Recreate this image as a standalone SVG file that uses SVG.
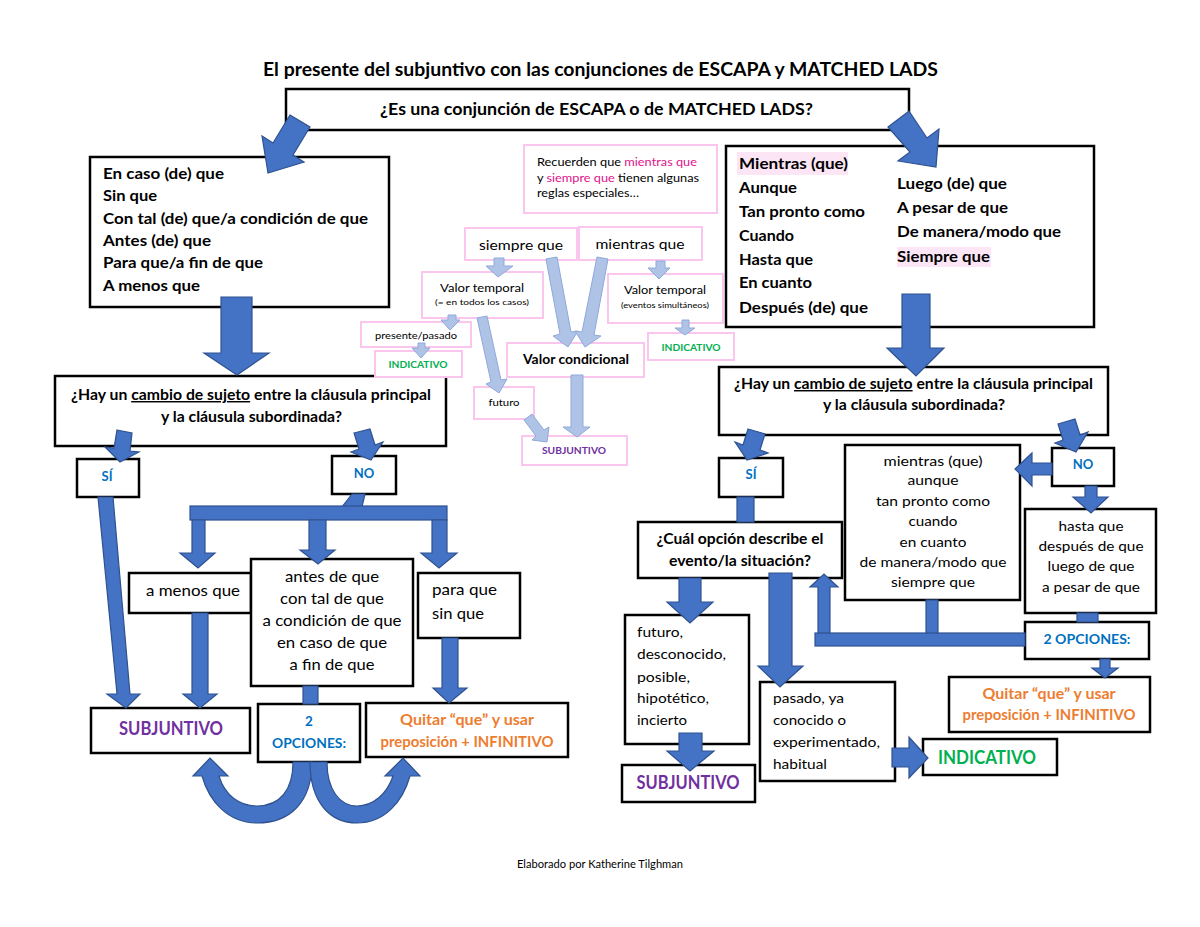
<svg xmlns="http://www.w3.org/2000/svg" width="1200" height="927" viewBox="0 0 1200 927">
<style>
text{font-family:Lato,"Liberation Sans",sans-serif;fill:#000}
.b{font-weight:bold}
.box{fill:#fff;stroke:#000;stroke-width:2.5}
.pbox{fill:#fff;stroke:#FBC6EE;stroke-width:2}
.arr{fill:#4472C4;stroke:#2F528F;stroke-width:1.2;stroke-linejoin:miter}
.parr{fill:#AFC3E7;stroke:#8FA9DA;stroke-width:1}
.blue{fill:#0070C0}
.purple{fill:#7030A0}
.orange{fill:#ED7D31}
.green{fill:#00B050}
.mag{fill:#E0138C}
.hl{fill:#FCE6F6}
</style>
<rect x="0" y="0" width="1200" height="927" fill="#fff"/>

<g id="title"><text x="263" y="76" font-size="19" class="b" textLength="675" lengthAdjust="spacingAndGlyphs">El presente del subjuntivo con las conjunciones de ESCAPA y MATCHED LADS</text></g>

<g id="q-top"><rect class="box" x="286" y="89" width="623" height="41"/><text x="380" y="115" font-size="17" class="b" textLength="433" lengthAdjust="spacingAndGlyphs">¿Es una conjunción de ESCAPA o de MATCHED LADS?</text></g>

<g id="escapa-list"><rect class="box" x="90" y="157" width="299" height="150"/>
<g font-size="16" class="b">
<text x="103" y="179" class="b" textLength="121" lengthAdjust="spacingAndGlyphs">En caso (de) que</text>
<text x="103" y="201" class="b" textLength="54" lengthAdjust="spacingAndGlyphs">Sin que</text>
<text x="103" y="224" class="b" textLength="265" lengthAdjust="spacingAndGlyphs">Con tal (de) que/a condición de que</text>
<text x="103" y="246" class="b" textLength="108" lengthAdjust="spacingAndGlyphs">Antes (de) que</text>
<text x="103" y="268" class="b" textLength="160" lengthAdjust="spacingAndGlyphs">Para que/a fin de que</text>
<text x="103" y="291" class="b" textLength="97" lengthAdjust="spacingAndGlyphs">A menos que</text>
</g></g>

<g id="matched-list"><rect class="box" x="726" y="146" width="368" height="181"/>
<rect class="hl" x="737" y="152" width="111" height="23"/>
<rect class="hl" x="897" y="247" width="94" height="20"/>
<g font-size="16">
<text x="739" y="169" class="b" textLength="109" lengthAdjust="spacingAndGlyphs">Mientras (que)</text>
<text x="739" y="193" class="b" textLength="58" lengthAdjust="spacingAndGlyphs">Aunque</text>
<text x="739" y="217" class="b" textLength="126" lengthAdjust="spacingAndGlyphs">Tan pronto como</text>
<text x="739" y="241" class="b" textLength="55" lengthAdjust="spacingAndGlyphs">Cuando</text>
<text x="739" y="265" class="b" textLength="74" lengthAdjust="spacingAndGlyphs">Hasta que</text>
<text x="739" y="288" class="b" textLength="73" lengthAdjust="spacingAndGlyphs">En cuanto</text>
<text x="739" y="313" class="b" textLength="129" lengthAdjust="spacingAndGlyphs">Después (de) que</text>
<text x="897" y="189" class="b" textLength="110" lengthAdjust="spacingAndGlyphs">Luego (de) que</text>
<text x="897" y="213" class="b" textLength="111" lengthAdjust="spacingAndGlyphs">A pesar de que</text>
<text x="897" y="237" class="b" textLength="164" lengthAdjust="spacingAndGlyphs">De manera/modo que</text>
<text x="897" y="262" class="b" textLength="93" lengthAdjust="spacingAndGlyphs">Siempre que</text>
</g></g>

<g id="q-left"><rect class="box" x="55" y="376" width="391" height="70"/>
<text x="71" y="400" font-size="14.5" class="b" textLength="360" lengthAdjust="spacingAndGlyphs">¿Hay un <tspan text-decoration="underline">cambio de sujeto</tspan> entre la cláusula principal</text>
<text x="161" y="422" font-size="14.5" class="b" textLength="181" lengthAdjust="spacingAndGlyphs">y la cláusula subordinada?</text></g>

<g id="q-right"><rect class="box" x="719" y="367" width="389" height="68"/>
<text x="734" y="389" font-size="14.5" class="b" textLength="359" lengthAdjust="spacingAndGlyphs">¿Hay un <tspan text-decoration="underline">cambio de sujeto</tspan> entre la cláusula principal</text>
<text x="823" y="410" font-size="14.5" class="b" textLength="182" lengthAdjust="spacingAndGlyphs">y la cláusula subordinada?</text></g>

<g id="si-left"><rect class="box" x="77" y="459" width="62" height="38"/><text x="107" y="481" font-size="13" class="b blue" text-anchor="middle">SÍ</text></g>
<g id="no-left"><rect class="box" x="332" y="456" width="64" height="38"/><text x="364" y="478" font-size="13" class="b blue" text-anchor="middle">NO</text></g>

<g id="a-menos"><rect class="box" x="129" y="573" width="122" height="40"/><text x="146" y="596" font-size="16" textLength="94" lengthAdjust="spacingAndGlyphs">a menos que</text></g>
<g id="antes-list"><rect class="box" x="251" y="559" width="162" height="127"/>
<g font-size="16" text-anchor="middle">
<text x="332" y="582" textLength="94" lengthAdjust="spacingAndGlyphs">antes de que</text>
<text x="332" y="604" textLength="104" lengthAdjust="spacingAndGlyphs">con tal de que</text>
<text x="332" y="626" textLength="139" lengthAdjust="spacingAndGlyphs">a condición de que</text>
<text x="332" y="648" textLength="110" lengthAdjust="spacingAndGlyphs">en caso de que</text>
<text x="332" y="670" textLength="85" lengthAdjust="spacingAndGlyphs">a fin de que</text>
</g></g>
<g id="para-que"><rect class="box" x="418" y="573" width="102" height="65"/>
<text x="432" y="595" font-size="16" textLength="65" lengthAdjust="spacingAndGlyphs">para que</text>
<text x="432" y="619" font-size="16" textLength="52" lengthAdjust="spacingAndGlyphs">sin que</text></g>

<g id="subj-left"><rect class="box" x="91" y="708" width="159" height="45"/><text x="171" y="735" font-size="18" class="b purple" text-anchor="middle" textLength="104" lengthAdjust="spacingAndGlyphs">SUBJUNTIVO</text></g>
<g id="opciones-left"><rect class="box" x="258" y="704" width="102" height="58"/>
<text x="309" y="726" font-size="13.5" class="b blue" text-anchor="middle">2</text>
<text x="309" y="748" font-size="13.5" class="b blue" text-anchor="middle" textLength="74" lengthAdjust="spacingAndGlyphs">OPCIONES:</text></g>
<g id="quitar-left"><rect class="box" x="366" y="703" width="202" height="54"/>
<text x="467" y="725" font-size="14.5" class="b orange" text-anchor="middle" textLength="134" lengthAdjust="spacingAndGlyphs">Quitar “que” y usar</text>
<text x="467" y="747" font-size="14.5" class="b orange" text-anchor="middle" textLength="173" lengthAdjust="spacingAndGlyphs">preposición + INFINITIVO</text></g>

<g id="recuerden"><rect class="pbox" x="524" y="145" width="193" height="68"/>
<text x="537" y="166" font-size="12" textLength="160" lengthAdjust="spacingAndGlyphs">Recuerden que <tspan class="mag">mientras que</tspan></text>
<text x="537" y="182" font-size="12" textLength="162" lengthAdjust="spacingAndGlyphs">y <tspan class="mag">siempre que</tspan> tienen algunas</text>
<text x="537" y="197" font-size="12" textLength="102" lengthAdjust="spacingAndGlyphs">reglas especiales…</text></g>

<g id="p-siempre"><rect class="pbox" x="465" y="228" width="112" height="32"/><text x="521" y="250" font-size="14" text-anchor="middle" textLength="84" lengthAdjust="spacingAndGlyphs">siempre que</text></g>
<g id="p-mientras"><rect class="pbox" x="579" y="227" width="123" height="33"/><text x="640" y="249" font-size="14" text-anchor="middle" textLength="89" lengthAdjust="spacingAndGlyphs">mientras que</text></g>
<g id="p-vt-left"><rect class="pbox" x="422" y="272" width="121" height="46"/>
<text x="482" y="292" font-size="12" text-anchor="middle" textLength="84" lengthAdjust="spacingAndGlyphs">Valor temporal</text>
<text x="482" y="305" font-size="8" text-anchor="middle" textLength="94" lengthAdjust="spacingAndGlyphs">(= en todos los casos)</text></g>
<g id="p-vt-right"><rect class="pbox" x="608" y="274" width="115" height="49"/>
<text x="665" y="294" font-size="12" text-anchor="middle" textLength="82" lengthAdjust="spacingAndGlyphs">Valor temporal</text>
<text x="665" y="308" font-size="8" text-anchor="middle" textLength="88" lengthAdjust="spacingAndGlyphs">(eventos simultáneos)</text></g>
<g id="p-presente"><rect class="pbox" x="361" y="322" width="110" height="25"/><text x="416" y="339" font-size="10" text-anchor="middle" textLength="82" lengthAdjust="spacingAndGlyphs">presente/pasado</text></g>
<g id="p-ind-left"><rect class="pbox" x="375" y="351" width="87" height="26"/><text x="418" y="368" font-size="10" class="b green" text-anchor="middle" textLength="59" lengthAdjust="spacingAndGlyphs">INDICATIVO</text></g>
<g id="p-vcond"><rect class="pbox" x="507" y="343" width="137" height="34"/><text x="576" y="364" font-size="14" class="b" text-anchor="middle" textLength="106" lengthAdjust="spacingAndGlyphs">Valor condicional</text></g>
<g id="p-ind-right"><rect class="pbox" x="648" y="333" width="86" height="27"/><text x="691" y="351" font-size="10" class="b green" text-anchor="middle" textLength="59" lengthAdjust="spacingAndGlyphs">INDICATIVO</text></g>
<g id="p-futuro"><rect class="pbox" x="474" y="387" width="60" height="32"/><text x="504" y="406" font-size="10" text-anchor="middle" textLength="31" lengthAdjust="spacingAndGlyphs">futuro</text></g>
<g id="p-subj"><rect class="pbox" x="522" y="436" width="105" height="29"/><text x="574" y="454" font-size="10" class="b purple" text-anchor="middle" textLength="64" lengthAdjust="spacingAndGlyphs">SUBJUNTIVO</text></g>

<g id="si-right"><rect class="box" x="719" y="458" width="64" height="39"/><text x="751" y="479" font-size="13" class="b blue" text-anchor="middle">SÍ</text></g>
<g id="cual"><rect class="box" x="638" y="522" width="204" height="56"/>
<text x="740" y="544" font-size="14.5" class="b" text-anchor="middle" textLength="167" lengthAdjust="spacingAndGlyphs">¿Cuál opción describe el</text>
<text x="740" y="566" font-size="14.5" class="b" text-anchor="middle" textLength="142" lengthAdjust="spacingAndGlyphs">evento/la situación?</text></g>
<g id="futuro-list"><rect class="box" x="625" y="615" width="124" height="129"/>
<g font-size="14">
<text x="637" y="637" textLength="46" lengthAdjust="spacingAndGlyphs">futuro,</text>
<text x="637" y="659" textLength="89" lengthAdjust="spacingAndGlyphs">desconocido,</text>
<text x="637" y="682" textLength="53" lengthAdjust="spacingAndGlyphs">posible,</text>
<text x="637" y="703" textLength="72" lengthAdjust="spacingAndGlyphs">hipotético,</text>
<text x="637" y="725" textLength="50" lengthAdjust="spacingAndGlyphs">incierto</text>
</g></g>
<g id="subj-right"><rect class="box" x="622" y="765" width="133" height="37"/><text x="688" y="789" font-size="18" class="b purple" text-anchor="middle" textLength="103" lengthAdjust="spacingAndGlyphs">SUBJUNTIVO</text></g>
<g id="pasado-list"><rect class="box" x="760" y="682" width="135" height="99"/>
<g font-size="14">
<text x="773" y="703" textLength="71" lengthAdjust="spacingAndGlyphs">pasado, ya</text>
<text x="773" y="725" textLength="73" lengthAdjust="spacingAndGlyphs">conocido o</text>
<text x="773" y="747" textLength="107" lengthAdjust="spacingAndGlyphs">experimentado,</text>
<text x="773" y="769" textLength="54" lengthAdjust="spacingAndGlyphs">habitual</text>
</g></g>
<g id="indicativo"><rect class="box" x="923" y="739" width="134" height="36"/><text x="938" y="764" font-size="18" class="b green" textLength="98" lengthAdjust="spacingAndGlyphs">INDICATIVO</text></g>

<g id="mientras-list"><rect class="box" x="845" y="445" width="175" height="155"/>
<g font-size="14" text-anchor="middle">
<text x="933" y="466" textLength="99" lengthAdjust="spacingAndGlyphs">mientras (que)</text>
<text x="933" y="485" textLength="51" lengthAdjust="spacingAndGlyphs">aunque</text>
<text x="933" y="506" textLength="114" lengthAdjust="spacingAndGlyphs">tan pronto como</text>
<text x="933" y="526" textLength="49" lengthAdjust="spacingAndGlyphs">cuando</text>
<text x="933" y="547" textLength="67" lengthAdjust="spacingAndGlyphs">en cuanto</text>
<text x="933" y="567" textLength="147" lengthAdjust="spacingAndGlyphs">de manera/modo que</text>
<text x="933" y="587" textLength="84" lengthAdjust="spacingAndGlyphs">siempre que</text>
</g></g>
<g id="no-right"><rect class="box" x="1052" y="448" width="62" height="38"/><text x="1083" y="469" font-size="13" class="b blue" text-anchor="middle">NO</text></g>
<g id="hasta-list"><rect class="box" x="1025" y="509" width="131" height="104"/>
<g font-size="14" text-anchor="middle">
<text x="1091" y="531" textLength="65" lengthAdjust="spacingAndGlyphs">hasta que</text>
<text x="1091" y="551" textLength="105" lengthAdjust="spacingAndGlyphs">después de que</text>
<text x="1091" y="571" textLength="87" lengthAdjust="spacingAndGlyphs">luego de que</text>
<text x="1091" y="592" textLength="98" lengthAdjust="spacingAndGlyphs">a pesar de que</text>
</g></g>
<g id="opciones-right"><rect class="box" x="1025" y="622" width="124" height="37"/><text x="1087" y="644" font-size="13.5" class="b blue" text-anchor="middle" textLength="87" lengthAdjust="spacingAndGlyphs">2 OPCIONES:</text></g>
<g id="quitar-right"><rect class="box" x="949" y="677" width="201" height="55"/>
<text x="1049" y="699" font-size="14.5" class="b orange" text-anchor="middle" textLength="133" lengthAdjust="spacingAndGlyphs">Quitar “que” y usar</text>
<text x="1049" y="720" font-size="14.5" class="b orange" text-anchor="middle" textLength="173" lengthAdjust="spacingAndGlyphs">preposición + INFINITIVO</text></g>

<g id="footer"><text x="517" y="868" font-size="10.5" fill="#333" textLength="166" lengthAdjust="spacingAndGlyphs">Elaborado por Katherine Tilghman</text></g>

<g id="connectors">
<polygon class="arr" points="290,115 310,127 293,155 304,162 268,173 262,136 273,143"/>
<polygon class="arr" points="888,127 909,111 927,138 939,129 936,167 898,161 910,152"/>
<polygon class="arr" points="221,297 252,297 252,353 269,353 237,375 204,353 221,353"/>
<polygon class="arr" points="902,294 930,294 930,348 944,348 916,376 887,348 902,348"/>
<polygon class="arr" points="117,430 132,433 130,451 139,452 120,462 105,447 114,448"/>
<polygon class="arr" points="354,433 370,429 375,445 383,442 371,460 351,452 359,449"/>
<polygon class="arr" points="352,494 365,494 362,507 342,507"/>
<rect class="arr" x="190" y="506" width="257" height="14"/>
<polygon class="arr" points="192,520 205,520 205,553 215,553 198,568 180,553 192,553"/>
<polygon class="arr" points="309,520 326,520 326,550 335,550 318,564 300,550 309,550"/>
<polygon class="arr" points="432,520 447,520 447,553 457,553 439,568 421,553 432,553"/>
<polygon class="arr" points="98,497 113,497 130,694 140,694 126,708 107,694 117,694"/>
<polygon class="arr" points="192,613 208,613 208,694 217,694 200,708 183,694 192,694"/>
<rect class="arr" x="303" y="686" width="15" height="18"/>
<polygon class="arr" points="442,638 458,638 458,688 467,688 449,703 433,688 442,688"/>
<path class="arr" d="M312,762 C312,802 290,823 257,823 C228,823 209,801 202,776 L193,776 L210,758 L228,776 L219,776 C225,796 240,806 257,806 C280,806 293,790 293,762 Z"/>
<path class="arr" d="M310,762 C310,802 330,823 357,823 C385,823 403,801 410,776 L420,776 L403,758 L385,776 L393,776 C387,794 373,806 357,806 C340,806 327,790 327,762 Z"/>

<polygon class="arr" points="748,429 765,434 760,450 768,453 747,460 735,442 743,445"/>
<polygon class="arr" points="1058,424 1075,419 1080,435 1088,432 1076,452 1055,443 1063,440"/>
<rect class="arr" x="737" y="497" width="17" height="25"/>
<polygon class="arr" points="679,578 701,578 701,602 713,602 690,623 667,602 679,602"/>
<polygon class="arr" points="679,733 702,733 702,751 714,751 690,771 667,751 679,751"/>
<polygon class="arr" points="769,573 792,573 792,666 803,666 780,687 758,666 769,666"/>
<polygon class="arr" points="892,748 909,748 909,737 928,758 909,778 909,767 892,767"/>
<polygon class="arr" points="1052,463 1032,463 1032,453 1015,469 1032,486 1032,475 1052,475"/>
<polygon class="arr" points="1085,486 1097,486 1097,497 1108,497 1091,513 1073,497 1085,497"/>
<rect class="arr" x="1077" y="613" width="21" height="9"/>
<polygon class="arr" points="1100,659 1110,659 1110,668 1118,668 1105,678 1092,668 1100,668"/>
<rect class="arr" x="926" y="600" width="12" height="34"/>
<polygon class="arr" points="818,640 830,640 830,587 838,587 824,574 810,587 818,587"/>
<rect class="arr" x="815" y="633" width="210" height="13"/>

<polygon class="parr" points="494,258 504,258 504,266 513,266 498,277 486,266 494,266"/>
<polygon class="parr" points="546,259 557,257 571,332 578,331 568,347 553,336 560,334"/>
<polygon class="parr" points="597,257 608,259 594,335 601,336 585,347 575,331 582,332"/>
<polygon class="parr" points="656,261 665,261 665,268 670,268 659,279 648,268 656,268"/>
<polygon class="parr" points="448,315 456,315 456,320 460,320 450,330 441,320 448,320"/>
<polygon class="parr" points="418,343 425,343 425,348 430,348 421,358 412,348 418,348"/>
<polygon class="parr" points="477,318 487,316 501,380 507,379 499,393 486,384 491,382"/>
<polygon class="parr" points="524,420 532,414 544,430 549,427 547,442 532,440 536,436"/>
<polygon class="parr" points="571,375 583,375 583,427 590,427 577,437 563,427 571,427"/>
<polygon class="parr" points="682,320 689,320 689,328 695,328 685,335 675,328 682,328"/>
</g>
</svg>
